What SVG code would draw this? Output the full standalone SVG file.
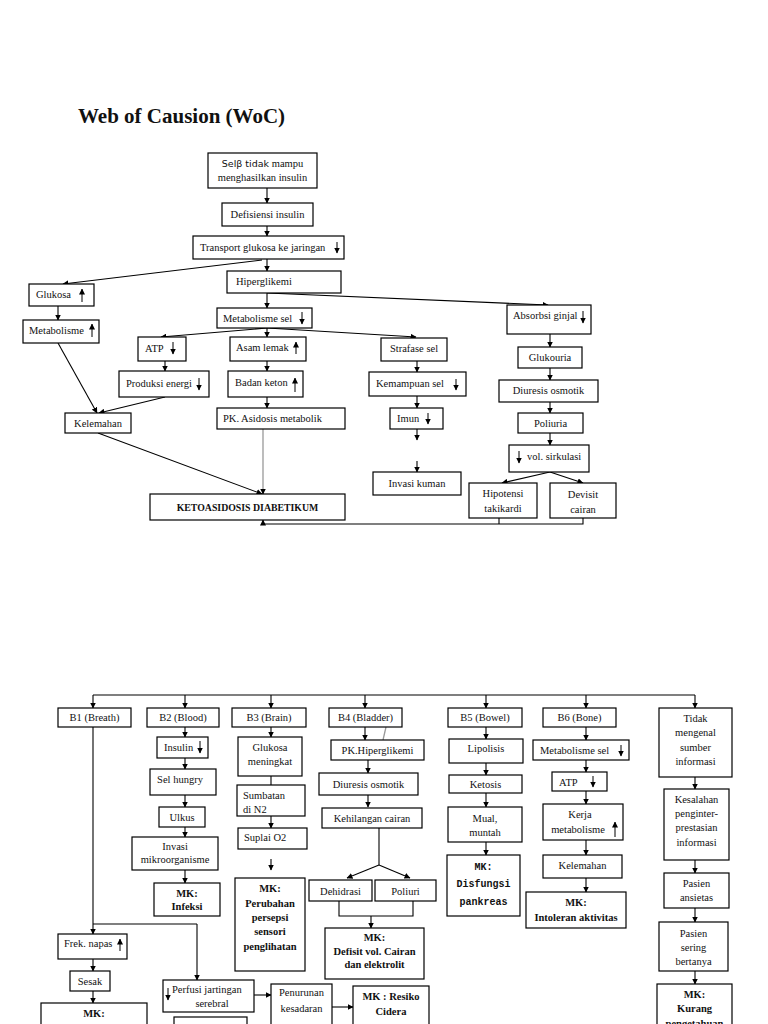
<svg xmlns="http://www.w3.org/2000/svg" width="768" height="1024" viewBox="0 0 768 1024">
<defs>
<marker id="ah" markerUnits="userSpaceOnUse" markerWidth="6" markerHeight="6" refX="5.5" refY="3" orient="auto"><path d="M0,0 L6,3 L0,6 z" fill="#000"/></marker>
<style>
rect{fill:#fff;stroke:#000;stroke-width:1.2}
text{font-family:"Liberation Serif","Times New Roman",serif;font-size:10.5px;fill:#111}
.c{text-anchor:middle}
.b{font-weight:bold}
.m{font-family:"Liberation Mono","Noto Sans CJK SC",monospace;font-weight:bold;font-size:10px}
.l{stroke:#000;stroke-width:1.1;fill:none}
.a{stroke:#000;stroke-width:1.1;fill:none;marker-end:url(#ah)}
.g{stroke:#999;stroke-width:1.3;fill:none}
.s{stroke:#000;stroke-width:1;fill:none;marker-end:url(#ah)}
</style>
</defs>
<rect x="0" y="0" width="768" height="1024" style="fill:#fff;stroke:none"/>
<text x="78" y="123" class="b" style="font-size:21px">Web of Causion (WoC)</text>

<g id="connectors">
<path class="a" d="M267,188 V203"/>
<path class="a" d="M267,226 V236"/>
<path class="a" d="M267,259 V271"/>
<path class="a" d="M262,260 L63,284"/>
<path class="a" d="M58,306 V320"/>
<path class="a" d="M267,293 V308"/>
<path class="a" d="M267,293 L548,305"/>
<path class="a" d="M267,328 L161,337"/>
<path class="a" d="M267,328 V337"/>
<path class="a" d="M267,328 L416,337"/>
<path class="a" d="M165,361 V371"/>
<path class="a" d="M267,361 V371"/>
<path class="a" d="M267,397 V408"/>
<path class="a" d="M165,397 L99,413"/>
<path class="a" d="M58,343 L97,413"/>
<path class="a" d="M98,433 L262,494"/>
<path class="g" d="M263,429 V490"/>
<path class="a" d="M263,489 V494"/>
<path class="a" d="M417,361 V372"/>
<path class="a" d="M417,396 V408"/>
<path class="a" d="M417,429 V440"/>
<path class="a" d="M417,461 V472"/>
<path class="a" d="M550,334 V347"/>
<path class="a" d="M550,368 V380"/>
<path class="a" d="M550,402 V413"/>
<path class="a" d="M550,433 V445"/>
<path class="a" d="M550,472 L502,483"/>
<path class="a" d="M550,472 L583,483"/>
<path class="l" d="M499,518 V524 M583,518 V524 H263"/>
<path class="a" d="M263,524 V520"/>

<path class="l" d="M93,695 H695"/>
<path class="a" d="M93,695 V708"/>
<path class="a" d="M185,695 V708"/>
<path class="a" d="M271,695 V708"/>
<path class="a" d="M365,695 V708"/>
<path class="a" d="M486,695 V708"/>
<path class="a" d="M586,695 V708"/>
<path class="a" d="M695,695 V708"/>

<path class="a" d="M695,777 V789"/>
<path class="a" d="M695,860 V873"/>
<path class="a" d="M695,908 V922"/>
<path class="a" d="M695,971 V984"/>

<path class="a" d="M185,727 V737"/>
<path class="a" d="M185,758 V769"/>
<path class="a" d="M185,795 V807"/>
<path class="a" d="M185,827 V837"/>
<path class="a" d="M185,870 V883"/>

<path class="a" d="M271,727 V737"/>
<path class="l" d="M271,776 V785"/>
<path class="a" d="M271,816 V828"/>
<path class="a" d="M271,859 V870"/>

<path class="a" d="M365,727 V740"/>
<path class="g" d="M386,727 L383,740"/>
<path class="a" d="M368,760 V773"/>
<path class="a" d="M368,795 V807"/>
<path class="l" d="M379,828 V865"/>
<path class="a" d="M379,865 L347,878"/>
<path class="a" d="M379,865 L410,878"/>
<path class="l" d="M339,901 V916 H413 V901"/>
<path class="a" d="M371,916 V928"/>

<path class="a" d="M486,727 V739"/>
<path class="a" d="M486,763 V775"/>
<path class="a" d="M486,793 V807"/>
<path class="a" d="M486,842 V855"/>

<path class="a" d="M586,727 V740"/>
<path class="a" d="M586,760 V772"/>
<path class="a" d="M586,791 V804"/>
<path class="a" d="M586,840 V855"/>
<path class="a" d="M586,878 V892"/>

<path class="a" d="M93,727 V934"/>
<path class="l" d="M93,924 H197"/>
<path class="a" d="M197,924 V980"/>
<path class="a" d="M93,959 V971"/>
<path class="a" d="M93,991 V1003"/>
<path class="a" d="M254,995 H271"/>
<path class="a" d="M332,1007 H353"/>
</g>

<g id="n1"><rect x="208" y="153" width="109" height="35"/><text x="262.5" y="167" class="c"><tspan style="font-family:'DejaVu Sans',sans-serif;font-size:9.5px">Selβ tidak</tspan> mampu</text><text x="262.5" y="181" class="c">menghasilkan insulin</text></g>
<g id="n2"><rect x="222" y="203" width="91" height="23"/><text x="267.5" y="218" class="c">Defisiensi insulin</text></g>
<g id="n3"><rect x="193" y="236" width="151" height="23"/><text x="200" y="251">Transport glukosa ke jaringan</text><path class="s" d="M337,242 V253"/></g>
<g id="n4"><rect x="227" y="271" width="114" height="22"/><text x="236" y="285">Hiperglikemi</text></g>
<g id="n5"><rect x="29" y="284" width="65" height="22"/><text x="36" y="298">Glukosa</text><path class="s" d="M82,302 V289"/></g>
<g id="n6"><rect x="23" y="320" width="76" height="23"/><text x="29" y="334">Metabolisme</text><path class="s" d="M92,337 V324"/></g>
<g id="n7"><rect x="217" y="308" width="95" height="20"/><text x="223" y="322">Metabolisme sel</text><path class="s" d="M302,312 V324"/></g>
<g id="n8"><rect x="138" y="337" width="48" height="24"/><text x="145" y="352">ATP</text><path class="s" d="M173,342 V354"/></g>
<g id="n9"><rect x="230" y="337" width="76" height="24"/><text x="236" y="351">Asam lemak</text><path class="s" d="M296,354 V342"/></g>
<g id="n10"><rect x="119" y="371" width="90" height="26"/><text x="126" y="387">Produksi energi</text><path class="s" d="M199,378 V390"/></g>
<g id="n11"><rect x="228" y="371" width="75" height="26"/><text x="235" y="386">Badan keton</text><path class="s" d="M295,392 V378"/></g>
<g id="n12"><rect x="65" y="413" width="66" height="20"/><text x="98" y="427" class="c">Kelemahan</text></g>
<g id="n13"><rect x="217" y="408" width="128" height="21"/><text x="223" y="422">PK. Asidosis metabolik</text></g>
<g id="n14"><rect x="150" y="494" width="195" height="26"/><text x="247.5" y="511" class="c b" style="font-size:9.8px">KETOASIDOSIS DIABETIKUM</text></g>
<g id="n15"><rect x="381" y="338" width="66" height="23"/><text x="414" y="352" class="c">Strafase sel</text></g>
<g id="n16"><rect x="369" y="372" width="97" height="24"/><text x="376" y="387">Kemampuan sel</text><path class="s" d="M456,379 V390"/></g>
<g id="n17"><rect x="390" y="408" width="53" height="21"/><text x="397" y="422">Imun</text><path class="s" d="M428,413 V424"/></g>
<g id="n18"><rect x="373" y="472" width="88" height="23"/><text x="417" y="487" class="c">Invasi kuman</text></g>
<g id="n19"><rect x="507" y="305" width="84" height="29"/><text x="513" y="319">Absorbsi ginjal</text><path class="s" d="M583,311 V323"/></g>
<g id="n20"><rect x="518" y="347" width="64" height="21"/><text x="550" y="361" class="c">Glukouria</text></g>
<g id="n21"><rect x="499" y="380" width="99" height="22"/><text x="548.5" y="394" class="c">Diuresis osmotik</text></g>
<g id="n22"><rect x="518" y="413" width="65" height="20"/><text x="550.5" y="427" class="c">Poliuria</text></g>
<g id="n23"><rect x="509" y="445" width="80" height="27"/><path class="s" d="M519,451 V463"/><text x="527" y="460">vol. sirkulasi</text></g>
<g id="n24"><rect x="469" y="483" width="68" height="35"/><text x="503" y="497" class="c">Hipotensi</text><text x="503" y="512" class="c">takikardi</text></g>
<g id="n25"><rect x="550" y="483" width="66" height="35"/><text x="583" y="498" class="c">Devisit</text><text x="583" y="513" class="c">cairan</text></g>

<g id="b1"><rect x="58" y="708" width="73" height="19"/><text x="94.5" y="721" class="c">B1 (Breath)</text></g>
<g id="b2"><rect x="147" y="708" width="72" height="19"/><text x="183" y="721" class="c">B2 (Blood)</text></g>
<g id="b3"><rect x="232" y="708" width="74" height="19"/><text x="269" y="721" class="c">B3 (Brain)</text></g>
<g id="b4"><rect x="329" y="708" width="73" height="19"/><text x="365.5" y="721" class="c">B4 (Bladder)</text></g>
<g id="b5"><rect x="448" y="708" width="74" height="19"/><text x="485" y="721" class="c">B5 (Bowel)</text></g>
<g id="b6"><rect x="543" y="708" width="73" height="19"/><text x="579.5" y="721" class="c">B6 (Bone)</text></g>

<g id="k1"><rect x="659" y="708" width="73" height="69"/><text x="695.5" y="722" class="c">Tidak</text><text x="695.5" y="736" class="c">mengenal</text><text x="695.5" y="751" class="c">sumber</text><text x="695.5" y="765" class="c">informasi</text></g>
<g id="k2"><rect x="664" y="789" width="65" height="71"/><text x="696.5" y="803" class="c">Kesalahan</text><text x="696.5" y="817" class="c">penginter-</text><text x="696.5" y="831" class="c">prestasian</text><text x="696.5" y="846" class="c">informasi</text></g>
<g id="k3"><rect x="664" y="873" width="65" height="35"/><text x="696.5" y="887" class="c">Pasien</text><text x="696.5" y="901" class="c">ansietas</text></g>
<g id="k4"><rect x="659" y="922" width="69" height="49"/><text x="693.5" y="937" class="c">Pasien</text><text x="693.5" y="951" class="c">sering</text><text x="693.5" y="965" class="c">bertanya</text></g>
<g id="k5"><rect x="657" y="984" width="75" height="60"/><text x="694.5" y="998" class="c b">MK:</text><text x="694.5" y="1012" class="c b">Kurang</text><text x="694.5" y="1027" class="c b">pengetahuan</text></g>

<g id="bl1"><rect x="157" y="737" width="51" height="21"/><text x="164" y="751">Insulin</text><path class="s" d="M200,741 V753"/></g>
<g id="bl2"><rect x="150" y="769" width="66" height="26"/><text x="180" y="783" class="c">Sel hungry</text></g>
<g id="bl3"><rect x="159" y="807" width="46" height="20"/><text x="182" y="821" class="c">Ulkus</text></g>
<g id="bl4"><rect x="132" y="837" width="86" height="33"/><text x="175" y="850" class="c">Invasi</text><text x="175" y="863" class="c">mikroorganisme</text></g>
<g id="bl5"><rect x="154" y="883" width="66" height="33"/><text x="187" y="897" class="c b">MK:</text><text x="187" y="910" class="c b">Infeksi</text></g>

<g id="br1"><rect x="238" y="737" width="64" height="39"/><text x="270" y="751" class="c">Glukosa</text><text x="270" y="765" class="c">meningkat</text></g>
<g id="br2"><rect x="237" y="785" width="68" height="31"/><text x="243" y="799">Sumbatan</text><text x="243" y="813">di N2</text></g>
<g id="br3"><rect x="238" y="828" width="69" height="21"/><text x="244" y="841">Suplai O2</text></g>
<g id="br4"><rect x="235" y="878" width="70" height="93"/><text x="270" y="892" class="c b">MK:</text><text x="270" y="907" class="c b">Perubahan</text><text x="270" y="921" class="c b">persepsi</text><text x="270" y="935" class="c b">sensori</text><text x="270" y="950" class="c b">penglihatan</text></g>

<g id="bd1"><rect x="331" y="740" width="93" height="20"/><text x="377.5" y="754" class="c">PK.Hiperglikemi</text></g>
<g id="bd2"><rect x="319" y="773" width="99" height="22"/><text x="368.5" y="788" class="c">Diuresis osmotik</text></g>
<g id="bd3"><rect x="322" y="808" width="100" height="20"/><text x="372" y="822" class="c">Kehilangan cairan</text></g>
<g id="bd4"><rect x="309" y="880" width="63" height="21"/><text x="340.5" y="895" class="c">Dehidrasi</text></g>
<g id="bd5"><rect x="375" y="880" width="61" height="21"/><text x="405.5" y="895" class="c">Poliuri</text></g>
<g id="bd6"><rect x="325" y="928" width="99" height="51"/><text x="374.5" y="941" class="c b">MK:</text><text x="374.5" y="955" class="c b">Defisit vol. Cairan</text><text x="374.5" y="968" class="c b">dan elektrolit</text></g>

<g id="bw1"><rect x="449" y="739" width="74" height="24"/><text x="486" y="752" class="c">Lipolisis</text></g>
<g id="bw2"><rect x="449" y="775" width="73" height="18"/><text x="485.5" y="788" class="c">Ketosis</text></g>
<g id="bw3"><rect x="448" y="807" width="74" height="35"/><text x="485" y="822" class="c">Mual,</text><text x="485" y="836" class="c">muntah</text></g>
<g id="bw4"><rect x="447" y="855" width="73" height="61"/><text x="483.5" y="870" class="c m">MK:</text><text x="483.5" y="887" class="c m">Disfungsi</text><text x="483.5" y="905" class="c m">pankreas</text></g>

<g id="bo1"><rect x="533" y="740" width="96" height="20"/><text x="540" y="754">Metabolisme sel</text><path class="s" d="M621,745 V756"/></g>
<g id="bo2"><rect x="552" y="772" width="55" height="19"/><text x="559" y="786">ATP</text><path class="s" d="M593,776 V787"/></g>
<g id="bo3"><rect x="543" y="804" width="80" height="36"/><text x="580" y="818" class="c">Kerja</text><text x="578" y="833" class="c">metabolisme</text><path class="s" d="M615,837 V822"/></g>
<g id="bo4"><rect x="543" y="855" width="79" height="23"/><text x="582.5" y="869" class="c">Kelemahan</text></g>
<g id="bo5"><rect x="526" y="892" width="100" height="36"/><text x="576" y="906" class="c b">MK:</text><text x="576" y="921" class="c b">Intoleran aktivitas</text></g>

<g id="r1"><rect x="58" y="934" width="69" height="25"/><text x="64" y="947">Frek. napas</text><path class="s" d="M120,951 V939"/></g>
<g id="r2"><rect x="70" y="971" width="40" height="20"/><text x="90" y="985" class="c">Sesak</text></g>
<g id="r3"><rect x="41" y="1003" width="106" height="40"/><text x="94" y="1017" class="c b">MK:</text></g>
<g id="r4"><rect x="163" y="980" width="91" height="32"/><path class="s" d="M168,988 V1000"/><text x="172" y="993">Perfusi jartingan</text><text x="212" y="1007" class="c">serebral</text></g>
<g id="r5"><rect x="174" y="1017" width="73" height="20"/></g>
<g id="r6"><rect x="271" y="984" width="61" height="50"/><text x="301.5" y="996" class="c">Penurunan</text><text x="301.5" y="1012" class="c">kesadaran</text></g>
<g id="r7"><rect x="353" y="986" width="76" height="50"/><text x="391" y="1000" class="c b">MK : Resiko</text><text x="391" y="1015" class="c b">Cidera</text></g>
</svg>
